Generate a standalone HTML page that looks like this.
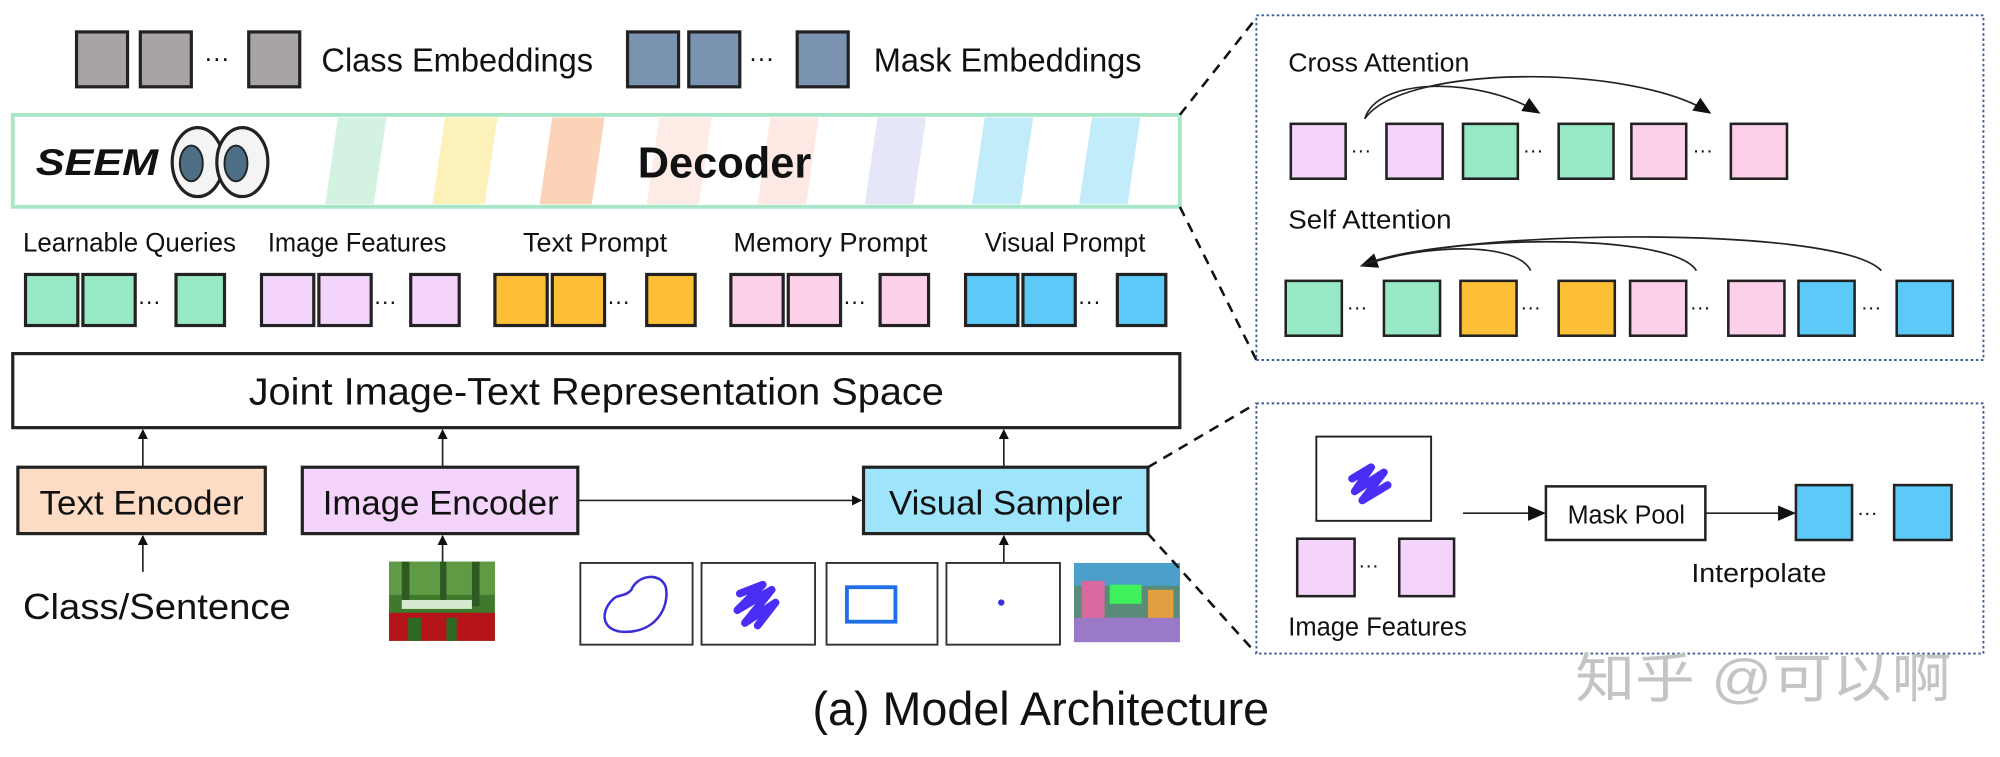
<!DOCTYPE html>
<html><head><meta charset="utf-8"><style>
html,body{margin:0;padding:0;background:#fff;width:2000px;height:757px;overflow:hidden}
svg{display:block}
text{font-family:"Liberation Sans","Noto Sans CJK SC",sans-serif;fill:#111}
</style></head><body>
<svg width="2000" height="757" viewBox="0 0 1568 593" preserveAspectRatio="none" xmlns="http://www.w3.org/2000/svg">
<defs>
<marker id="ar" markerWidth="8" markerHeight="8" refX="7" refY="4" orient="auto" markerUnits="userSpaceOnUse"><path d="M0,0 L8,4 L0,8 z" fill="#111"/></marker>
<marker id="ar2" markerWidth="14" markerHeight="12" refX="12" refY="6" orient="auto" markerUnits="userSpaceOnUse"><path d="M0,0 L14,6 L0,12 z" fill="#111"/></marker>
</defs>
<g stroke="#222" stroke-width="2.5">
<rect x="60" y="25" width="40" height="43" fill="#a8a3a4"/><rect x="110" y="25" width="40" height="43" fill="#a8a3a4"/><rect x="195" y="25" width="40" height="43" fill="#a8a3a4"/>
<rect x="492" y="25" width="40" height="43" fill="#7a93b0"/><rect x="540" y="25" width="40" height="43" fill="#7a93b0"/><rect x="625" y="25" width="40" height="43" fill="#7a93b0"/>
</g>
<text x="160" y="52" font-size="20">···</text><text x="587" y="52" font-size="20">···</text>
<text x="252" y="56" font-size="26" textLength="213" lengthAdjust="spacingAndGlyphs">Class Embeddings</text>
<text x="685" y="56" font-size="26" textLength="210" lengthAdjust="spacingAndGlyphs">Mask Embeddings</text>
<rect x="10" y="90" width="915" height="72" fill="#fff" stroke="#a8e6c8" stroke-width="3"/>
<g>
<polygon points="265,92 303,92 293,160 255,160" fill="#d3f2e2"/>
<polygon points="349,92 390,92 380,160 339,160" fill="#fcf1b9"/>
<polygon points="433,92 474,92 464,160 423,160" fill="#fcd3b8"/>
<polygon points="517,92 558,92 548,160 507,160" fill="#fdebe6"/>
<polygon points="604,92 642,92 632,160 594,160" fill="#fde8e4"/>
<polygon points="688,92 726,92 716,160 678,160" fill="#e5e6f8"/>
<polygon points="772,92 810,92 800,160 762,160" fill="#c3ecfa"/>
<polygon points="856,92 894,92 884,160 846,160" fill="#c3ecfa"/>
</g>
<text x="28" y="137" font-size="29" font-weight="bold" font-style="italic" textLength="96" lengthAdjust="spacingAndGlyphs">SEEM</text>
<g stroke="#222" stroke-width="2.5">
<ellipse cx="155" cy="127" rx="20" ry="27" fill="#f4f4f4"/><ellipse cx="190" cy="127" rx="20" ry="27" fill="#f4f4f4"/>
</g>
<ellipse cx="150" cy="128" rx="9" ry="14" fill="#4c6f86" stroke="#222" stroke-width="1.5"/>
<ellipse cx="185" cy="128" rx="9" ry="14" fill="#4c6f86" stroke="#222" stroke-width="1.5"/>
<text x="500" y="139" font-size="34" font-weight="bold" textLength="136" lengthAdjust="spacingAndGlyphs">Decoder</text>
<g font-size="21">
<text x="18" y="197" textLength="167" lengthAdjust="spacingAndGlyphs">Learnable Queries</text>
<text x="210" y="197" textLength="140" lengthAdjust="spacingAndGlyphs">Image Features</text>
<text x="410" y="197" textLength="113" lengthAdjust="spacingAndGlyphs">Text Prompt</text>
<text x="575" y="197" textLength="152" lengthAdjust="spacingAndGlyphs">Memory Prompt</text>
<text x="772" y="197" textLength="126" lengthAdjust="spacingAndGlyphs">Visual Prompt</text>
</g>
<g stroke="#222" stroke-width="2.5">
<rect x="20" y="215" width="41" height="40" fill="#97e8c5"/><rect x="65" y="215" width="41" height="40" fill="#97e8c5"/><rect x="138" y="215" width="38" height="40" fill="#97e8c5"/>
<rect x="205" y="215" width="41" height="40" fill="#f4d4fb"/><rect x="250" y="215" width="41" height="40" fill="#f4d4fb"/><rect x="322" y="215" width="38" height="40" fill="#f4d4fb"/>
<rect x="388" y="215" width="41" height="40" fill="#fcbf36"/><rect x="433" y="215" width="41" height="40" fill="#fcbf36"/><rect x="507" y="215" width="38" height="40" fill="#fcbf36"/>
<rect x="573" y="215" width="41" height="40" fill="#fdd0ea"/><rect x="618" y="215" width="41" height="40" fill="#fdd0ea"/><rect x="690" y="215" width="38" height="40" fill="#fdd0ea"/>
<rect x="757" y="215" width="41" height="40" fill="#5bcaf9"/><rect x="802" y="215" width="41" height="40" fill="#5bcaf9"/><rect x="876" y="215" width="38" height="40" fill="#5bcaf9"/>
</g>
<g font-size="18"><text x="108" y="242">···</text><text x="293" y="242">···</text><text x="476" y="242">···</text><text x="661" y="242">···</text><text x="845" y="242">···</text></g>
<rect x="10" y="277" width="915" height="58" fill="#fff" stroke="#222" stroke-width="2.5"/>
<text x="195" y="317" font-size="30" textLength="545" lengthAdjust="spacingAndGlyphs">Joint Image-Text Representation Space</text>
<g stroke="#222" stroke-width="1.3" fill="none">
<line x1="112" y1="366" x2="112" y2="337" marker-end="url(#ar)"/>
<line x1="347" y1="366" x2="347" y2="337" marker-end="url(#ar)"/>
<line x1="787" y1="366" x2="787" y2="337" marker-end="url(#ar)"/>
<line x1="112" y1="448" x2="112" y2="420" marker-end="url(#ar)"/>
<line x1="347" y1="440" x2="347" y2="420" marker-end="url(#ar)"/>
<line x1="787" y1="441" x2="787" y2="420" marker-end="url(#ar)"/>
<line x1="453" y1="392" x2="675" y2="392" marker-end="url(#ar)"/>
</g>
<rect x="14" y="366" width="194" height="52" fill="#fcdcc4" stroke="#222" stroke-width="2.5"/>
<rect x="237" y="366" width="216" height="52" fill="#f4d4fb" stroke="#222" stroke-width="2.5"/>
<rect x="677" y="366" width="223" height="52" fill="#9ee4fb" stroke="#222" stroke-width="2.5"/>
<text x="31" y="403" font-size="27" textLength="160" lengthAdjust="spacingAndGlyphs">Text Encoder</text>
<text x="253" y="403" font-size="27" textLength="185" lengthAdjust="spacingAndGlyphs">Image Encoder</text>
<text x="697" y="403" font-size="27" textLength="183" lengthAdjust="spacingAndGlyphs">Visual Sampler</text>
<text x="18" y="485" font-size="28" textLength="210" lengthAdjust="spacingAndGlyphs">Class/Sentence</text>
<rect x="305" y="440" width="83" height="62" fill="#3f7a2c"/>
<rect x="305" y="440" width="83" height="26" fill="#5f9a44"/>
<rect x="315" y="440" width="6" height="35" fill="#2d5a22"/><rect x="345" y="440" width="5" height="35" fill="#2d5a22"/><rect x="370" y="440" width="6" height="35" fill="#2d5a22"/>
<rect x="315" y="470" width="55" height="7" fill="#d8e8d0"/>
<rect x="305" y="480" width="83" height="22" fill="#b5141a"/>
<rect x="320" y="484" width="10" height="18" fill="#2d6a22"/><rect x="350" y="484" width="8" height="18" fill="#2d6a22"/>
<g stroke="#333" stroke-width="1.5" fill="#fff">
<rect x="455" y="441" width="88" height="64"/><rect x="550" y="441" width="89" height="64"/><rect x="648" y="441" width="87" height="64"/><rect x="742" y="441" width="89" height="64"/>
</g>
<path d="M480,470 C470,480 472,495 490,495 C515,495 525,475 522,460 C518,448 500,450 495,462 C490,468 484,465 480,470 z" fill="none" stroke="#3a2fd8" stroke-width="2"/>
<path d="M580,465 L598,458 L578,478 L605,462 L584,488 L608,472 L594,490" fill="none" stroke="#4a2ef5" stroke-width="6" stroke-linecap="round" stroke-linejoin="round"/>
<rect x="664" y="460" width="38" height="27" fill="none" stroke="#1f6fe8" stroke-width="3"/>
<circle cx="785" cy="472" r="2.5" fill="#3a2fd8"/>
<rect x="842" y="441" width="83" height="62" fill="#5a8a7a"/>
<rect x="842" y="441" width="83" height="18" fill="#4aa0c8"/>
<rect x="848" y="455" width="18" height="30" fill="#d86aa0"/>
<rect x="870" y="458" width="25" height="15" fill="#3ef05a"/>
<rect x="900" y="462" width="20" height="25" fill="#e0a040"/>
<rect x="842" y="484" width="83" height="19" fill="#9a7ac8"/>
<text x="637" y="568" font-size="37" textLength="358" lengthAdjust="spacingAndGlyphs">(a) Model Architecture</text>
<g stroke="#111" stroke-width="2" stroke-dasharray="8,6" fill="none">
<line x1="925" y1="90" x2="985" y2="14"/><line x1="925" y1="162" x2="985" y2="282"/>
<line x1="900" y1="366" x2="985" y2="316"/><line x1="900" y1="418" x2="985" y2="512"/>
</g>
<g stroke="#3d5f9a" stroke-width="1.5" stroke-dasharray="2,2" fill="none">
<rect x="985" y="12" width="570" height="270"/><rect x="985" y="316" width="570" height="196"/>
</g>
<text x="1010" y="56" font-size="20" textLength="142" lengthAdjust="spacingAndGlyphs">Cross Attention</text>
<g stroke="#222" stroke-width="2">
<rect x="1012" y="97" width="43" height="43" fill="#f4d4fb"/><rect x="1087" y="97" width="44" height="43" fill="#f4d4fb"/>
<rect x="1147" y="97" width="43" height="43" fill="#97e8c5"/><rect x="1222" y="97" width="43" height="43" fill="#97e8c5"/>
<rect x="1279" y="97" width="43" height="43" fill="#fdd0ea"/><rect x="1357" y="97" width="44" height="43" fill="#fdd0ea"/>
</g>
<g font-size="16"><text x="1059" y="123">···</text><text x="1194" y="123">···</text><text x="1327" y="123">···</text></g>
<g stroke="#222" stroke-width="1.3" fill="none">
<path d="M1070,93 C1080,60 1160,60 1206,88" marker-end="url(#ar2)"/>
<path d="M1070,93 C1100,50 1280,50 1340,88" marker-end="url(#ar2)"/>
</g>
<text x="1010" y="179" font-size="20" textLength="128" lengthAdjust="spacingAndGlyphs">Self Attention</text>
<g stroke="#222" stroke-width="2">
<rect x="1008" y="220" width="44" height="43" fill="#97e8c5"/><rect x="1085" y="220" width="44" height="43" fill="#97e8c5"/>
<rect x="1145" y="220" width="44" height="43" fill="#fcbf36"/><rect x="1222" y="220" width="44" height="43" fill="#fcbf36"/>
<rect x="1278" y="220" width="44" height="43" fill="#fdd0ea"/><rect x="1355" y="220" width="44" height="43" fill="#fdd0ea"/>
<rect x="1410" y="220" width="44" height="43" fill="#5bcaf9"/><rect x="1487" y="220" width="44" height="43" fill="#5bcaf9"/>
</g>
<g font-size="16"><text x="1056" y="246">···</text><text x="1192" y="246">···</text><text x="1325" y="246">···</text><text x="1459" y="246">···</text></g>
<g stroke="#222" stroke-width="1.3" fill="none">
<path d="M1200,212 C1190,190 1120,190 1068,208" marker-end="url(#ar2)"/>
<path d="M1330,212 C1310,180 1120,185 1068,208"/>
<path d="M1475,212 C1440,175 1130,180 1068,208"/>
</g>
<rect x="1032" y="342" width="90" height="66" fill="#fff" stroke="#222" stroke-width="1.5"/>
<path d="M1060,375 L1075,366 L1062,385 L1085,370 L1068,392 L1088,380" fill="none" stroke="#4a2ef5" stroke-width="6" stroke-linecap="round" stroke-linejoin="round"/>
<g stroke="#222" stroke-width="2">
<rect x="1017" y="422" width="45" height="45" fill="#f4d4fb"/><rect x="1097" y="422" width="43" height="45" fill="#f4d4fb"/>
<rect x="1408" y="380" width="44" height="43" fill="#5bcaf9"/><rect x="1485" y="380" width="45" height="43" fill="#5bcaf9"/>
</g>
<text x="1065" y="448" font-size="16">···</text><text x="1456" y="407" font-size="16">···</text>
<text x="1010" y="498" font-size="20" textLength="140" lengthAdjust="spacingAndGlyphs">Image Features</text>
<g stroke="#222" stroke-width="1.3" fill="none">
<line x1="1147" y1="402" x2="1210" y2="402" marker-end="url(#ar2)"/>
<line x1="1337" y1="402" x2="1406" y2="402" marker-end="url(#ar2)"/>
</g>
<rect x="1212" y="381" width="125" height="42" fill="#fff" stroke="#222" stroke-width="2"/>
<text x="1229" y="410" font-size="20" textLength="92" lengthAdjust="spacingAndGlyphs">Mask Pool</text>
<text x="1326" y="456" font-size="20" textLength="106" lengthAdjust="spacingAndGlyphs">Interpolate</text>
<text x="1235" y="546" font-size="42" style="fill:#c4c4c4" textLength="295" lengthAdjust="spacingAndGlyphs">知乎 @可以啊</text>
</svg>
</body></html>
